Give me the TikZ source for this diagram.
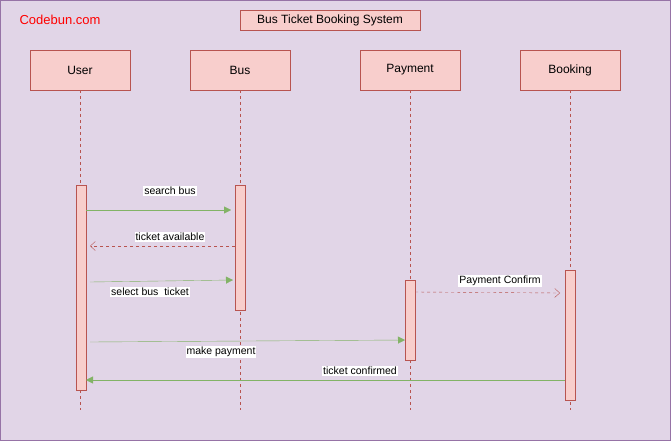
\documentclass[tikz,border=0pt]{standalone}
\usepackage{fontspec}
\setmainfont{Liberation Sans}
\usetikzlibrary{arrows.meta}
\definecolor{bgc}{HTML}{E1D5E7}
\definecolor{bgb}{HTML}{9673A6}
\definecolor{boxf}{HTML}{F8CECC}
\definecolor{boxs}{HTML}{B85450}
\definecolor{grn}{HTML}{82B366}
\tikzset{
 pbox/.style={draw=boxs,fill=boxf,minimum width=100pt,minimum height=40pt,inner sep=0pt,font=\fontsize{12}{14}\selectfont},
 act/.style={draw=boxs,fill=boxf,minimum width=10pt,inner sep=0pt},
 life/.style={draw=boxs,dashed,line width=0.5pt},
 msg/.style={draw=grn,-{Triangle[length=7pt,width=7pt]}},
 ret/.style={draw=boxs,dashed,-{Straight Barb[length=5pt,width=9pt]}},
 lbl/.style={fill=white,inner sep=1pt,font=\fontsize{10.5}{12}\selectfont}
}
\begin{document}
\begin{tikzpicture}[x=1pt,y=-1pt]
\useasboundingbox (0,0) rectangle (671,441);
\fill[bgc,draw=bgb] (0.5,0.5) rectangle (670.5,440.5);
\node[text=red,font=\fontsize{13}{14}\selectfont] (logo) at (60,20) {Codebun.com};
\node[pbox,minimum width=180pt,minimum height=20pt] (title) at (330,20) {Bus Ticket Booking System};
\foreach \n/\t/\x in {user/User/80,bus/Bus/240,pay/Payment/410,book/Booking/570}{
 \coordinate (\n end) at (\x,410);
 \draw[life] (\x,90) -- (\n end);
 \node[pbox] (\n) at (\x,70) {\t};
}
\node[act,minimum height=205pt] (au) at (81,287.5) {};
\node[act,minimum height=125pt] (ab) at (240,247.5) {};
\node[act,minimum height=80pt] (ap) at (410,320) {};
\node[act,minimum height=130pt] (ak) at (570,335) {};
\coordinate (s1) at (86,210); \coordinate (e1) at (231,210);
\draw[msg] (s1) -- (e1);
\node[lbl] (l1) at (170,191) {search bus};
\coordinate (s2) at (235,246); \coordinate (e2) at (90,246);
\draw[ret] (s2) -- (e2);
\node[lbl] (l2) at (170,237) {ticket available};
\coordinate (s3) at (90,282); \coordinate (e3) at (233,280);
\draw[msg] (s3) -- (e3);
\node[lbl] (l3) at (150,292) {select bus\ \ ticket};
\coordinate (s4) at (90,342); \coordinate (e4) at (405,340);
\draw[msg] (s4) -- (e4);
\node[lbl] (l4) at (221,352) {make payment};
\coordinate (s5) at (415,292); \coordinate (e5) at (560,293);
\draw[ret] (s5) -- (e5);
\node[lbl] (l5) at (500,281) {Payment Confirm};
\coordinate (s6) at (565,380); \coordinate (e6) at (86,380);
\draw[msg] (s6) -- (e6);
\node[lbl] (l6) at (360,371) {ticket confirmed};
\end{tikzpicture}
\end{document}
